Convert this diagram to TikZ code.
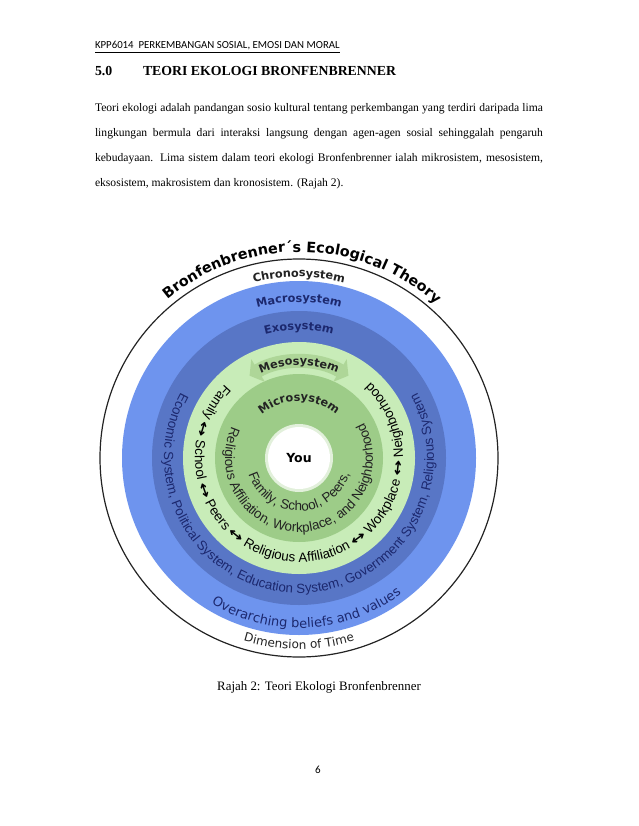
\documentclass[tikz,border=0pt]{standalone}
\usepackage{fontspec}
\setmainfont{Liberation Serif}
\newfontfamily\calibri{Carlito}
\newfontfamily\verdana{DejaVu Sans}
\newfontfamily\arial{Liberation Sans}
\newfontfamily\widearrow[FakeStretch=1.45]{DejaVu Sans}
\usetikzlibrary{arrows.meta,decorations.text}

\definecolor{macroblue}{RGB}{110,148,238}
\definecolor{exoblue}{RGB}{88,118,198}
\definecolor{mesogreen}{RGB}{200,236,184}
\definecolor{mesoband}{RGB}{174,214,152}
\definecolor{microgreen}{RGB}{157,204,136}
\definecolor{navy}{RGB}{28,40,110}
\definecolor{inkgray}{RGB}{35,35,35}

% fonts of the curved labels
\newcommand\titlefont{\fontsize{14.4}{16}\selectfont\verdana\bfseries}
\newcommand\labelfont{\fontsize{11.3}{13}\selectfont\verdana\bfseries}
\newcommand\timefont{\fontsize{12}{14}\selectfont\verdana\mdseries}
\newcommand\beliefsfont{\fontsize{13}{15}\selectfont\verdana\mdseries}
\newcommand\ringfont{\fontsize{13.3}{15}\selectfont\arial\mdseries}
\newcommand\mesofont{\fontsize{13.4}{15}\selectfont\arial\mdseries}
\newcommand\microfont{\fontsize{13.4}{15}\selectfont\arial\mdseries}
\newcommand\arrowfont{\fontsize{13}{15}\selectfont\widearrow\bfseries}

\begin{document}
\begin{tikzpicture}[
  x=1pt, y=1pt,
  every node/.style={inner sep=0pt, outer sep=0pt},
  arctext/.style={decorate, decoration={text along path, text align=center}},
  mesoarrow/.style={draw=mesoband, line width=14pt,
    {Triangle[width=26pt,length=10pt]}-{Triangle[width=26pt,length=10pt]}},
  pagetext/.style={anchor=base west}
]

\useasboundingbox (0,0) rectangle (638,-826);

% --- PAGE TEXT ---
\node[pagetext, font=\calibri\fontsize{10.8}{12}\selectfont] (header) at (95,-49)
  {\underline{KPP6014\ \ PERKEMBANGAN SOSIAL, EMOSI DAN MORAL}};

\node[pagetext, font=\bfseries\fontsize{13.8}{15}\selectfont] (secno) at (95,-76) {5.0};
\node[pagetext, font=\bfseries\fontsize{13.8}{15}\selectfont] (sectitle) at (143,-76)
  {TEORI EKOLOGI BRONFENBRENNER};

\node[pagetext] (para) at (95,-112) {\parbox[t]{448pt}{\fontsize{11.6}{25}\selectfont
  Teori ekologi adalah pandangan sosio kultural tentang perkembangan yang terdiri daripada lima\linebreak
  lingkungan bermula dari interaksi langsung dengan agen-agen sosial sehinggalah pengaruh\linebreak
  kebudayaan. Lima sistem dalam teori ekologi Bronfenbrenner ialah mikrosistem, mesosistem,\linebreak
  eksosistem, makrosistem dan kronosistem. (Rajah 2).}};

\node[anchor=base, font=\fontsize{12.9}{14}\selectfont] (caption) at (319,-690)
  {Rajah 2: Teori Ekologi Bronfenbrenner};
\node[anchor=base, font=\calibri\fontsize{11}{13}\selectfont] (pageno) at (318,-773) {6};

% --- CONCENTRIC SYSTEMS ---
\coordinate (ctr) at (299,-458);
\draw[line width=1.2pt, draw=inkgray, fill=white] (ctr) circle (199);
\fill[macroblue] (ctr) circle (177);
\fill[exoblue] (ctr) circle (147);
\fill[mesogreen] (ctr) circle (116);
\fill[microgreen] (ctr) circle (84);
\fill[white!70!microgreen] (ctr) circle (34);
\fill[white] (ctr) circle (31);
\node[font=\verdana\bfseries\fontsize{12.5}{14}\selectfont] (you) at (ctr) {You};

% --- MESOSYSTEM ARROW ---
\draw[mesoarrow] ([shift={(121:96)}]ctr) arc[start angle=121, end angle=59, radius=96];

% --- LABELS ON TOP ---
\path[arctext, decoration={text={|\titlefont|Bronfenbrenner´s Ecological Theory}}]
  ([shift={(179:206)}]ctr) arc[start angle=179, end angle=-1, radius=206];
\path[arctext, decoration={text color=inkgray, text={|\labelfont|Chronosystem}}]
  ([shift={(180:181)}]ctr) arc[start angle=180, end angle=0, radius=181];
\path[arctext, decoration={text color=navy, text={|\labelfont|Macrosystem}}]
  ([shift={(180:156)}]ctr) arc[start angle=180, end angle=0, radius=156];
\path[arctext, decoration={text color=navy, text={|\labelfont|Exosystem}}]
  ([shift={(180:128)}]ctr) arc[start angle=180, end angle=0, radius=128];
\path[arctext, decoration={text color=inkgray, text={|\labelfont|Mesosystem}}]
  ([shift={(180:93)}]ctr) arc[start angle=180, end angle=0, radius=93];
\path[arctext, decoration={text color=inkgray, text={|\labelfont|Microsystem}}]
  ([shift={(180:57)}]ctr) arc[start angle=180, end angle=0, radius=57];

% --- LABELS ROUND THE RINGS ---
\path[arctext, decoration={text color=inkgray, text={|\timefont|Dimension of Time}}]
  ([shift={(180:191)}]ctr) arc[start angle=180, end angle=360, radius=191];
\path[arctext, decoration={text color=navy, text={|\beliefsfont|Overarching beliefs and values}}]
  ([shift={(183:170)}]ctr) arc[start angle=183, end angle=363, radius=170];
\path[arctext, decoration={text color=navy,
    text={|\ringfont|Economic System, Political System, Education System, Government System, Religious System}}]
  ([shift={(90:135)}]ctr) arc[start angle=90, end angle=450, radius=135];
\path[arctext, decoration={text color=black,
    text={|\mesofont|Family |\arrowfont|↔|\mesofont| School |\arrowfont|↔|\mesofont| Peers |\arrowfont|↔|\mesofont| Religious Affiliation |\arrowfont|↔|\mesofont| Workplace |\arrowfont|↔|\mesofont| Neighborhood}}]
  ([shift={(91:104)}]ctr) arc[start angle=91, end angle=451, radius=104];
\path[arctext, decoration={text color=inkgray,
    text={|\microfont|Religious Affiliation, Workplace, and Neighborhood}}]
  ([shift={(92:74)}]ctr) arc[start angle=92, end angle=452, radius=74];
\path[arctext, decoration={text color=inkgray, text={|\microfont|Family, School, Peers,}}]
  ([shift={(180:53)}]ctr) arc[start angle=180, end angle=360, radius=53];

\end{tikzpicture}
\end{document}
